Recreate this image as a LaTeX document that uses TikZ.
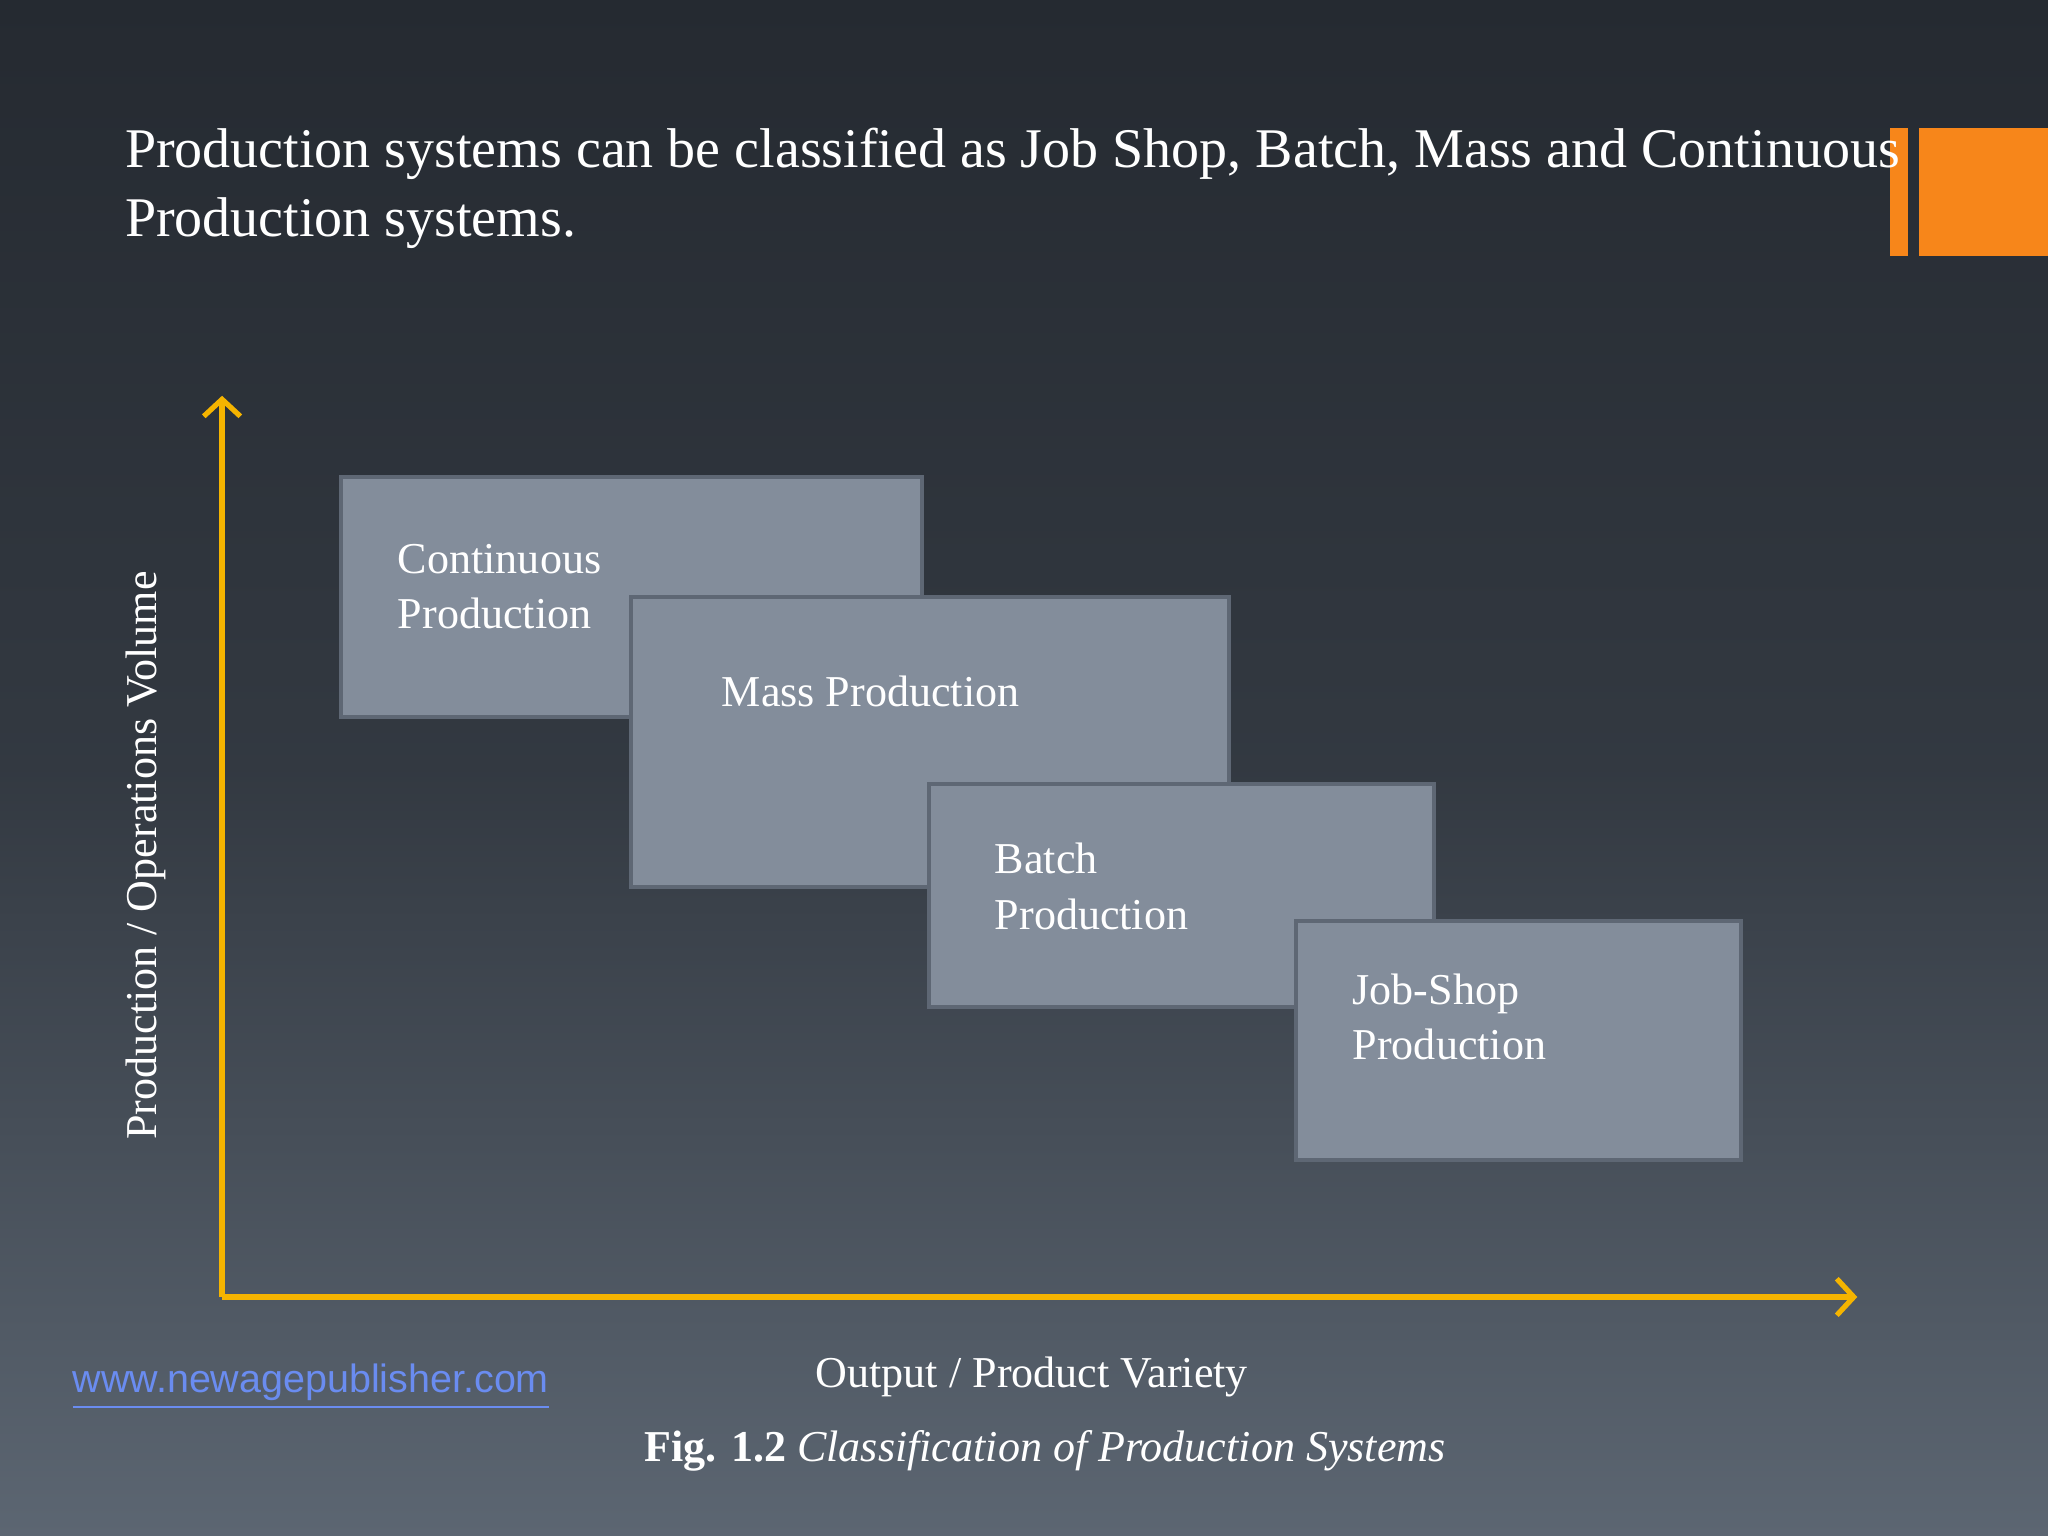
\documentclass[tikz,border=0pt]{standalone}
\usepackage{fontspec}
\setmainfont{Liberation Serif}
\setsansfont{Liberation Sans}
\usetikzlibrary{arrows.meta}
\definecolor{bgtop}{HTML}{252A31}
\definecolor{bgbot}{HTML}{5C6672}
\definecolor{orng}{HTML}{F7861A}
\definecolor{boxfill}{HTML}{838D9B}
\definecolor{boxline}{HTML}{5E6774}
\definecolor{axis}{HTML}{F5B400}
\definecolor{link}{HTML}{6A8CF0}
\begin{document}
\begin{tikzpicture}[x=0.1mm,y=-0.1mm,
  pbox/.style={draw=boxline,line width=0.3mm,fill=boxfill},
  btext/.style={anchor=north west,align=left,text=white,font=\fontsize{9.6}{12}\selectfont,inner sep=0pt},
  ax/.style={draw=axis,line width=0.4mm,-{Straight Barb[length=1.3mm,width=2.8mm,line width=0.4mm]}}]
\useasboundingbox (0,0) rectangle (1568,1176);
\shade[top color=bgtop,bottom color=bgbot,middle color=bgtop!75!bgbot] (0,0) rectangle (1568,1176);
\fill[orng] (1447,98) rectangle (1461,196);
\fill[orng] (1469,98) rectangle (1568,196);
\node[anchor=north west,align=left,text=white,font=\fontsize{12.2}{15.2}\selectfont,inner sep=0pt] (title) at (95,97)
  {Production systems can be classified as Job Shop, Batch, Mass and Continuous\\Production systems.};
\draw[pbox] (261,365) rectangle (706,549);
\draw[pbox] (483,457) rectangle (941,679);
\draw[pbox] (711,600) rectangle (1098,771);
\draw[pbox] (992,705) rectangle (1333,888);
\node[btext] (cont) at (304,416) {Continuous\\Production};
\node[btext] (mass) at (552,517) {Mass Production};
\node[btext] (batch) at (761,645) {Batch\\Production};
\node[btext] (job) at (1035,745) {Job-Shop\\Production};
\coordinate (o) at (170,993);
\coordinate (ytop) at (170,303);
\coordinate (xend) at (1422,993);
\draw[ax] (o) -- (ytop);
\draw[ax] (o) -- (xend);
\node[rotate=90,text=white,font=\fontsize{9.6}{12}\selectfont] (ylab) at (112,655) {Production / Operations Volume};
\node[text=white,font=\fontsize{9.6}{12}\selectfont] (xlab) at (790,1054) {Output / Product Variety};
\node[anchor=west,text=link,font=\sffamily\fontsize{8.6}{10}\selectfont,inner sep=0pt] (web) at (55,1062) {\underline{www.newagepublisher.com}};
\node[text=white,font=\fontsize{9.6}{12}\selectfont] (cap) at (800,1111) {\textbf{Fig. 1.2} \textit{Classification of Production Systems}};
\end{tikzpicture}
\end{document}
